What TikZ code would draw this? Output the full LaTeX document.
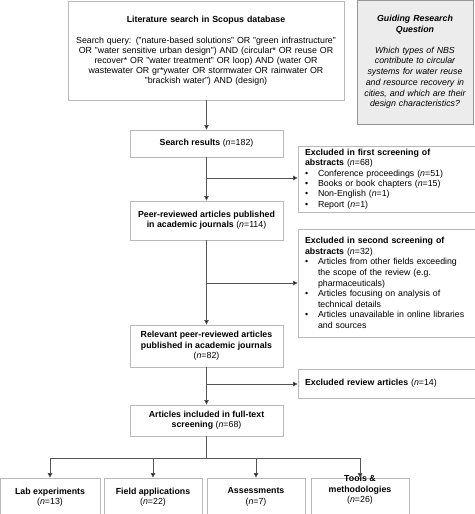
\documentclass[tikz,border=0pt]{standalone}
\usepackage{fontspec}
\setmainfont{Liberation Sans}
\usetikzlibrary{arrows.meta}
\definecolor{linecol}{RGB}{85,85,85}
\definecolor{boxline}{RGB}{185,185,185}
\definecolor{guidefill}{RGB}{236,236,236}
\definecolor{guideline}{RGB}{150,150,150}
\begin{document}
\begin{tikzpicture}[x=1pt,y=-1pt,
  box/.style={draw=boxline, line width=0.9pt, fill=white, rectangle, inner sep=0pt, align=center,
    font=\fontsize{8.8pt}{10.4pt}\selectfont},
  sidebox/.style={box, align=left, inner xsep=7pt, text width=164pt, minimum width=178pt},
  txt/.style={inner sep=0pt, align=center, font=\fontsize{8.8pt}{10.4pt}\selectfont},
  arr/.style={draw=linecol, line width=0.8pt, -{Triangle[length=4.5pt,width=4.5pt,fill=black]}},
  ln/.style={draw=linecol, line width=0.8pt}]
\useasboundingbox (0,0) rectangle (474,514);
\fill[white] (0,0) rectangle (474,514);

% top box
\node[box, minimum width=276pt, minimum height=99pt, text width=266pt,
  font=\fontsize{8.8pt}{10.1pt}\selectfont] (lit) at (206,50.5)
  {\textbf{Literature search in Scopus database}\\[11pt]
   Search query: ("nature-based solutions" OR "green infrastructure"\\
   OR "water sensitive urban design") AND (circular* OR reuse OR\\
   recover* OR "water treatment" OR loop) AND (water OR\\
   wastewater OR gr*ywater OR stormwater OR rainwater OR\\
   "brackish water") AND (design)};

% guiding research question
\node[box, draw=guideline, fill=guidefill, minimum width=116pt, minimum height=124pt, text width=110pt,
  font=\fontsize{8.8pt}{10.7pt}\selectfont\itshape] (guide) at (415,62)
  {\textbf{Guiding Research}\\\textbf{Question}\\[10pt]
   Which types of NBS\\contribute to circular\\systems for water reuse\\and resource recovery in\\cities, and which are their\\design characteristics?};

% main column
\node[box, minimum width=153pt, minimum height=27pt] (res) at (206.5,143.5)
  {\textbf{Search results} (\textit{n}=182)};
\node[box, minimum width=153pt, minimum height=39pt] (peer) at (206.5,220.5)
  {\textbf{Peer-reviewed articles published}\\\textbf{in academic journals} (\textit{n}=114)};
\node[box, minimum width=153pt, minimum height=42pt] (rel) at (206.5,346)
  {\textbf{Relevant peer-reviewed articles}\\\textbf{published in academic journals}\\(\textit{n}=82)};
\node[box, minimum width=153pt, minimum height=31pt] (inc) at (206.5,420.5)
  {\textbf{Articles included in full-text}\\\textbf{screening} (\textit{n}=68)};

% side boxes
\node[sidebox, minimum height=66pt] (ex1) at (387,179)
  {\textbf{Excluded in first screening of}\\
   \textbf{abstracts} (\textit{n}=68)\\
   \makebox[13pt][l]{•}Conference proceedings (\textit{n}=51)\\
   \makebox[13pt][l]{•}Books or book chapters (\textit{n}=15)\\
   \makebox[13pt][l]{•}Non-English (\textit{n}=1)\\
   \makebox[13pt][l]{•}Report (\textit{n}=1)};
\node[sidebox, minimum height=108pt, font=\fontsize{8.8pt}{10.6pt}\selectfont] (ex2) at (387,283)
  {\textbf{Excluded in second screening of}\\
   \textbf{abstracts} (\textit{n}=32)\\
   \makebox[13pt][l]{•}Articles from other fields exceeding\\
   \hspace*{13pt}the scope of the review (e.g.\\
   \hspace*{13pt}pharmaceuticals)\\
   \makebox[13pt][l]{•}Articles focusing on analysis of\\
   \hspace*{13pt}technical details\\
   \makebox[13pt][l]{•}Articles unavailable in online libraries\\
   \hspace*{13pt}and sources};
\node[sidebox, minimum height=29pt] (ex3) at (387,383.5)
  {\textbf{Excluded review articles} (\textit{n}=14)};

% bottom boxes
\node[box, minimum width=100pt, minimum height=38pt] (lab) at (50,497)
  {\textbf{Lab experiments}\\(\textit{n}=13)};
\node[box, minimum width=98pt, minimum height=38pt] (field) at (153,497)
  {\textbf{Field applications}\\(\textit{n}=22)};
\node[box, minimum width=98pt, minimum height=38pt] (ass) at (256,497)
  {\textbf{Assessments}\\(\textit{n}=7)};
\node[box, minimum width=98pt, minimum height=38pt] (tools) at (360,497) {};
\node[txt] (toolstxt) at (360,490)
  {\textbf{Tools \&}\\\textbf{methodologies}\\(\textit{n}=26)};

% connectors
\draw[arr] (lit.south -| res.north) -- (res.north);
\draw[arr] (res.south) -- (peer.north);
\coordinate (b1) at (206.5,178);
\draw[arr] (b1) -- (b1 -| ex1.west);
\draw[arr] (peer.south) -- (rel.north);
\coordinate (b2) at (206.5,283);
\draw[arr] (b2) -- (b2 -| ex2.west);
\draw[arr] (rel.south) -- (inc.north);
\coordinate (b3) at (206.5,384);
\draw[arr] (b3) -- (b3 -| ex3.west);
\coordinate (j4) at (206.5,458);
\draw[ln] (inc.south) -- (j4);
\draw[arr] (j4) -| (lab.north);
\draw[arr] (j4) -| (field.north);
\draw[arr] (j4) -| (ass.north);
\draw[arr] (j4) -| (tools.north);
\end{tikzpicture}
\end{document}
